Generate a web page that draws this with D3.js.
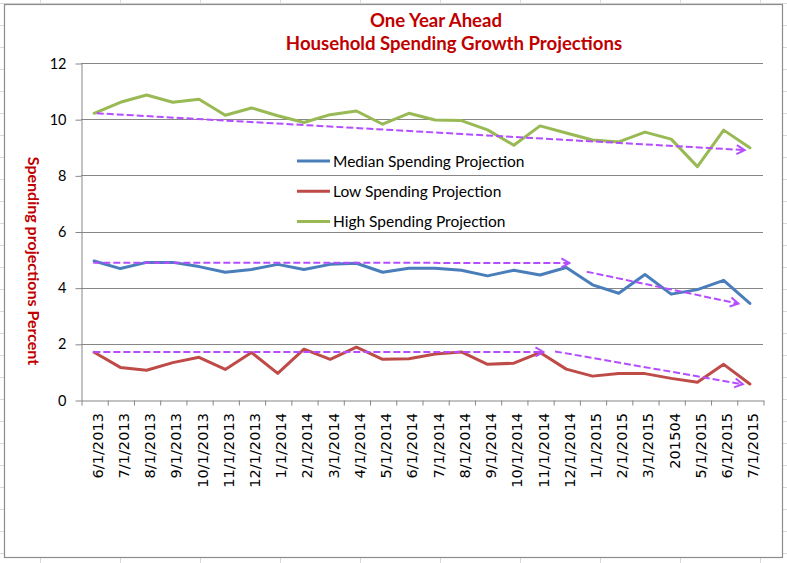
<!DOCTYPE html>
<html>
<head>
<meta charset="utf-8">
<script src="https://cdn.jsdelivr.net/npm/d3@7/dist/d3.min.js"></script>
<style>
  html, body { margin: 0; padding: 0; background: #ffffff; }
  svg { display: block; }
</style>
</head>
<body>
<div id="chart"></div>
<script>
// One Year Ahead - household spending growth projections (Excel style line chart)

const categories = [
  "6/1/2013", "7/1/2013", "8/1/2013", "9/1/2013", "10/1/2013", "11/1/2013",
  "12/1/2013", "1/1/2014", "2/1/2014", "3/1/2014", "4/1/2014", "5/1/2014",
  "6/1/2014", "7/1/2014", "8/1/2014", "9/1/2014", "10/1/2014", "11/1/2014",
  "12/1/2014", "1/1/2015", "2/1/2015", "3/1/2015", "201504", "5/1/2015",
  "6/1/2015", "7/1/2015"
];

const medianValues = [
  4.95, 4.68, 4.90, 4.90, 4.75, 4.55, 4.65, 4.83, 4.65, 4.83, 4.87, 4.55,
  4.69, 4.69, 4.62, 4.42, 4.62, 4.45, 4.72, 4.10, 3.80, 4.47, 3.77, 3.93,
  4.26, 3.44
];

const lowValues = [
  1.70, 1.16, 1.06, 1.33, 1.52, 1.09, 1.69, 0.95, 1.81, 1.45, 1.88, 1.45,
  1.47, 1.64, 1.71, 1.27, 1.31, 1.69, 1.10, 0.85, 0.94, 0.94, 0.77, 0.63,
  1.27, 0.57
];

const highValues = [
  10.21, 10.60, 10.86, 10.60, 10.71, 10.14, 10.40, 10.12, 9.88, 10.16, 10.29, 9.82,
  10.21, 9.97, 9.95, 9.62, 9.07, 9.76, 9.51, 9.26, 9.19, 9.54, 9.29, 8.31,
  9.61, 8.98
];

const seriesNames = ["Median Spending Projection", "Low Spending Projection", "High Spending Projection"];
const seriesColors = ["#4A7EBB", "#BE4B48", "#98B954"];

const yTicks = [0, 2, 4, 6, 8, 10, 12];

// hand drawn trend arrows, in (category index, value) space
const trendArrows = [
  { i0: 0.1,   v0: 10.21, i1: 24.8,  v1: 8.90 },
  { i0: -0.03, v0: 4.89,  i1: 18.12, v1: 4.88 },
  { i0: 18.78, v0: 4.57,  i1: 24.56, v1: 3.43 },
  { i0: -0.03, v0: 1.71,  i1: 17.13, v1: 1.71 },
  { i0: 17.57, v0: 1.73,  i1: 24.73, v1: 0.56 }
];

const W = 787, H = 563;
const plot = { left: 81, right: 763, top: 63, bottom: 400 };

const svg = d3.select("#chart").append("svg")
  .attr("width", W)
  .attr("height", H);

// spreadsheet cells behind the chart
const sheet = svg.append("g").attr("stroke", "#d9d9d9").attr("stroke-width", 1);
sheet.selectAll("line.col")
  .data(d3.range(40, W, 80))
  .enter().append("line")
  .attr("x1", d => d + 0.5).attr("x2", d => d + 0.5)
  .attr("y1", 0).attr("y2", H);
sheet.selectAll("line.row")
  .data(d3.range(3.5, H, 22))
  .enter().append("line")
  .attr("x1", 0).attr("x2", W)
  .attr("y1", d => d).attr("y2", d => d);

// chart area
svg.append("rect")
  .attr("x", 4.5).attr("y", 4.5)
  .attr("width", 778).attr("height", 553)
  .attr("fill", "#ffffff")
  .attr("stroke", "#8c8c8c")
  .attr("stroke-width", 1.2);

const x = d3.scaleBand()
  .domain(categories)
  .range([plot.left, plot.right])
  .paddingInner(0).paddingOuter(0);

const bw = x.bandwidth();
const xIdx = d3.scaleLinear()
  .domain([0, categories.length - 1])
  .range([x(categories[0]) + bw / 2, x(categories[categories.length - 1]) + bw / 2]);

const xEdge = d3.scaleLinear()
  .domain([0, categories.length])
  .range([plot.left, plot.right]);

const y = d3.scaleLinear()
  .domain([0, 12])
  .range([plot.bottom, plot.top]);

// gridlines
svg.append("g")
  .selectAll("line")
  .data(yTicks.filter(t => t > 0))
  .enter().append("line")
  .attr("x1", plot.left).attr("x2", plot.right)
  .attr("y1", d => Math.round(y(d)) + 0.5).attr("y2", d => Math.round(y(d)) + 0.5)
  .attr("stroke", "#868686")
  .attr("stroke-width", 1);

// y axis
const yAxis = svg.append("g")
  .attr("transform", `translate(${plot.left + 0.5},0.5)`)
  .call(d3.axisLeft(y).tickValues(yTicks).tickSize(6).tickSizeOuter(0).tickPadding(9));
yAxis.select(".domain").attr("stroke", "#868686");
yAxis.selectAll(".tick line").attr("stroke", "#868686");
yAxis.selectAll(".tick text")
  .attr("font-family", "Lato, 'Open Sans', sans-serif")
  .attr("font-size", 14.5)
  .attr("fill", "#000");

// x axis: tick marks between categories
const xTickAxis = svg.append("g")
  .attr("transform", `translate(0.5,${plot.bottom + 0.5})`)
  .call(d3.axisBottom(xEdge).tickValues(d3.range(categories.length + 1)).tickFormat("").tickSize(5).tickSizeOuter(0));
xTickAxis.select(".domain").attr("stroke", "#868686");
xTickAxis.selectAll(".tick line").attr("stroke", "#868686");

// x labels, rotated
const xLabelAxis = svg.append("g")
  .attr("transform", `translate(0,${plot.bottom})`)
  .call(d3.axisBottom(x).tickSize(0).tickPadding(0));
xLabelAxis.select(".domain").remove();
xLabelAxis.selectAll(".tick text")
  .attr("font-family", "'DejaVu Sans', Verdana, sans-serif")
  .attr("font-size", 14.6)
  .attr("fill", "#000")
  .attr("text-anchor", "end")
  .attr("transform", "translate(8.5,13) rotate(-90)")
  .attr("x", 0).attr("y", 0).attr("dy", 0);

// series lines
const series = [medianValues, lowValues, highValues];
const line = d3.line()
  .x((d, i) => xIdx(i))
  .y(d => y(d));

svg.append("g")
  .selectAll("path")
  .data(series)
  .enter().append("path")
  .attr("d", d => line(d))
  .attr("fill", "none")
  .attr("stroke", (d, i) => seriesColors[i])
  .attr("stroke-width", 3)
  .attr("stroke-linejoin", "round")
  .attr("stroke-linecap", "round");

// trend arrows
svg.append("defs").append("marker")
  .attr("id", "chev")
  .attr("viewBox", "0 0 12 12")
  .attr("refX", 10).attr("refY", 6)
  .attr("markerWidth", 12).attr("markerHeight", 12)
  .attr("markerUnits", "userSpaceOnUse")
  .attr("orient", "auto")
  .append("path")
  .attr("d", "M2,1.5 L10,6 L2,10.5")
  .attr("fill", "none")
  .attr("stroke", "#B44CFF")
  .attr("stroke-width", 2);

svg.append("g")
  .selectAll("line")
  .data(trendArrows)
  .enter().append("line")
  .attr("x1", d => xIdx(d.i0)).attr("y1", d => y(d.v0))
  .attr("x2", d => xIdx(d.i1)).attr("y2", d => y(d.v1))
  .attr("stroke", "#B44CFF")
  .attr("stroke-width", 2)
  .attr("stroke-dasharray", "7,3")
  .attr("marker-end", "url(#chev)");

// legend
const legend = svg.append("g").attr("transform", "translate(297,161)");
const item = legend.selectAll("g")
  .data(seriesNames)
  .enter().append("g")
  .attr("transform", (d, i) => `translate(0,${i * 30.2})`);
item.append("line")
  .attr("x1", 0).attr("x2", 33)
  .attr("y1", 0).attr("y2", 0)
  .attr("stroke", (d, i) => seriesColors[i])
  .attr("stroke-width", 3);
item.append("text")
  .attr("x", 36).attr("y", 5.5)
  .attr("font-family", "Lato, 'Open Sans', sans-serif")
  .attr("font-size", 15.5)
  .attr("fill", "#000")
  .text(d => d);

// titles
svg.append("text")
  .attr("x", 436).attr("y", 27)
  .attr("text-anchor", "middle")
  .attr("font-family", "Lato, 'Open Sans', sans-serif")
  .attr("font-weight", "bold")
  .attr("font-size", 18.6)
  .attr("fill", "#C00000")
  .text("One Year Ahead");

svg.append("text")
  .attr("x", 454).attr("y", 50)
  .attr("text-anchor", "middle")
  .attr("font-family", "Lato, 'Open Sans', sans-serif")
  .attr("font-weight", "bold")
  .attr("font-size", 18.6)
  .attr("fill", "#C00000")
  .text("Household Spending Growth Projections");

svg.append("text")
  .attr("transform", "translate(28,261) rotate(90)")
  .attr("text-anchor", "middle")
  .attr("font-family", "Lato, 'Open Sans', sans-serif")
  .attr("font-weight", "bold")
  .attr("font-size", 16)
  .attr("fill", "#C00000")
  .text("Spending projections Percent");
</script>
</body>
</html>
